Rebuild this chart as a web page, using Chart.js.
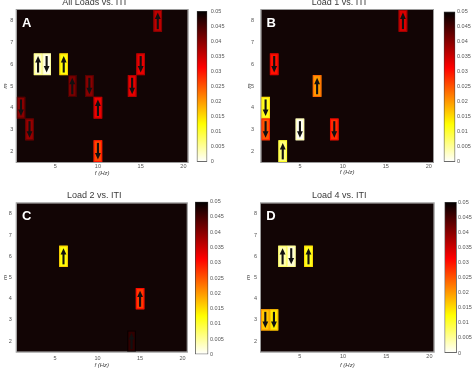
<!DOCTYPE html>
<html><head><meta charset="utf-8">
<script src="https://cdn.jsdelivr.net/npm/chart.js@4"></script>
<style>
html,body{margin:0;padding:0;background:#fff;}
#wrap{position:relative;width:474px;height:370px;overflow:hidden;background:#fff;}
#wrap canvas{position:absolute;}
</style></head><body><div id="wrap"></div>
<script>
// ---- data ----
const fTicks = [5, 10, 15, 20];
const mTicks = [2, 3, 4, 5, 6, 7, 8];
const fRange = [0.5, 20.5];
const mRange = [1.5, 8.5];
const cbTicks = [0, 0.005, 0.01, 0.015, 0.02, 0.025, 0.03, 0.035, 0.04, 0.045, 0.05];
const cbTickLabels = ['0', '0.005', '0.01', '0.015', '0.02', '0.025', '0.03', '0.035', '0.04', '0.045', '0.05'];
const titles = ['All Loads vs. ITI', 'Load 1 vs. ITI', 'Load 2 vs. ITI', 'Load 4 vs. ITI'];
const letters = ['A', 'B', 'C', 'D'];

// Panel A: All Loads
const aF   = [1, 2, 3, 4, 6, 7, 9, 10, 10, 14, 15, 17];
const aM   = [4, 3, 6, 6, 6, 5, 5, 4, 2, 5, 6, 8];
const aP   = [0.040, 0.039, 0.0025, 0.001, 0.012, 0.041, 0.040, 0.0325, 0.026, 0.033, 0.033, 0.036];
const aDir = [-1, -1, 1, -1, 1, 1, -1, 1, -1, -1, -1, 1];
// Panel B: Load 1
const bF   = [17, 2, 7, 1, 1, 5, 9, 3];
const bM   = [8, 6, 5, 4, 3, 3, 3, 2];
const bP   = [0.034, 0.030, 0.020, 0.011, 0.025, 0.0005, 0.028, 0.0065];
const bDir = [1, -1, 1, -1, -1, -1, -1, 1];
// Panel C: Load 2
const cF   = [6, 15, 14];
const cM   = [6, 4, 2];
const cP   = [0.012, 0.027, 0.0465];
const cDir = [1, 1, 1];
// Panel D: Load 4
const dF   = [3, 4, 6, 1, 2];
const dM   = [6, 6, 6, 3, 3];
const dP   = [0.004, 0.002, 0.011, 0.0165, 0.014];
const dDir = [1, -1, 1, -1, -1];

// ---- styling / layout ----
const FONT = "'Liberation Sans', Arial, sans-serif";
const BG = '#120505';
const VMAX = 0.05;

function hotRev(v) {
  const t = Math.max(0, Math.min(1, 1 - v / VMAX));
  const r = Math.min(1, t / 0.375);
  const g = Math.max(0, Math.min(1, (t - 0.375) / 0.375));
  const b = Math.max(0, Math.min(1, (t - 0.75) / 0.25));
  return 'rgb(' + Math.round(r * 255) + ',' + Math.round(g * 255) + ',' + Math.round(b * 255) + ')';
}

const wrap = document.getElementById('wrap');
function makeCanvas(l, t, w, h) {
  const c = document.createElement('canvas');
  c.width = w; c.height = h;
  c.style.left = l + 'px'; c.style.top = t + 'px';
  c.style.width = w + 'px'; c.style.height = h + 'px';
  wrap.appendChild(c);
  return c;
}

function drawArrow(ctx, cx, cy, w, h, dir) {
  const L = h * 0.76, hl = Math.min(h * 0.3, 6.5), hw = Math.min(w * 0.68, 5.8);
  const tip = cy - dir * L / 2, tail = cy + dir * L / 2;
  ctx.strokeStyle = '#101010'; ctx.fillStyle = '#101010';
  ctx.lineWidth = 2.1;
  ctx.beginPath(); ctx.moveTo(cx, tail); ctx.lineTo(cx, tip + dir * hl * 0.7); ctx.stroke();
  ctx.beginPath(); ctx.moveTo(cx, tip); ctx.lineTo(cx - hw / 2, tip + dir * hl); ctx.lineTo(cx + hw / 2, tip + dir * hl); ctx.closePath(); ctx.fill();
}

const heatPlugin = {
  id: 'heat',
  beforeDatasetsDraw(chart) {
    const ctx = chart.ctx, a = chart.chartArea;
    const xs = chart.scales.x, ys = chart.scales.y;
    ctx.save();
    ctx.fillStyle = BG;
    ctx.fillRect(a.left, a.top, a.right - a.left, a.bottom - a.top);
    const meta = chart.getDatasetMeta(0);
    chart.data.datasets[0].data.forEach((d, i) => {
      const el = meta.data[i];
      const x0 = xs.getPixelForValue(d.x - 0.5), x1 = xs.getPixelForValue(d.x + 0.5);
      const y0 = ys.getPixelForValue(d.y + 0.5), y1 = ys.getPixelForValue(d.y - 0.5);
      ctx.fillStyle = hotRev(d.p);
      ctx.fillRect(x0, y0, x1 - x0, y1 - y0);
      ctx.strokeStyle = hotRev(d.p + 0.004);
      ctx.lineWidth = 1;
      ctx.strokeRect(x0 + 0.5, y0 + 0.5, x1 - x0 - 1, y1 - y0 - 1);
      drawArrow(ctx, el.x, el.y, x1 - x0, y1 - y0, d.dir);
    });
    ctx.strokeStyle = '#9a9a9a'; ctx.lineWidth = 1;
    ctx.strokeRect(a.left - 0.5, a.top - 0.5, a.right - a.left + 1, a.bottom - a.top + 1);
    const opt = chart.options.plugins.heat;
    ctx.fillStyle = '#ffffff';
    ctx.font = 'bold 13px ' + FONT;
    ctx.textAlign = 'left'; ctx.textBaseline = 'alphabetic';
    ctx.fillText(opt.letter, a.left + 5.3, a.top + 16.6);
    ctx.restore();
  }
};

function heatmap(idx, P, F, M, Pv, D) {
  const A = P.area;
  const cl = Math.floor(P.yTitleX - 3.6);
  const ct = Math.floor(P.titleY - 5.4);
  const cb = Math.ceil(P.xTitleY + 3.6);
  const cr = Math.ceil(A.r + 1);
  const canvas = makeCanvas(cl, ct, cr - cl, cb - ct);
  const data = F.map((f, i) => ({x: f, y: M[i], p: Pv[i], dir: D[i]}));
  new Chart(canvas, {
    type: 'scatter',
    data: {datasets: [{data: data, pointRadius: 0, pointHoverRadius: 0}]},
    plugins: [heatPlugin],
    options: {
      responsive: false, animation: false, events: [],
      layout: {padding: {left: 0, right: cr - A.r, top: 0, bottom: 0}},
      plugins: {
        legend: {display: false}, tooltip: {enabled: false},
        title: {display: true, text: titles[idx], color: '#3a3a3a',
          font: {family: FONT, size: 9, weight: 'normal'}, padding: {top: P.titleY - 5.4 - ct, bottom: A.t - P.titleY - 5.4}},
        heat: {letter: letters[idx]}
      },
      scales: {
        x: {type: 'linear', min: fRange[0], max: fRange[1],
          afterBuildTicks: s => { s.ticks = fTicks.map(v => ({value: v})); },
          afterFit: s => { s.height = cb - A.b; },
          grid: {display: false, drawTicks: false}, border: {display: false},
          ticks: {color: '#555', font: {family: FONT, size: 5.5}, padding: P.xTickY - A.b - 3.3,
            maxRotation: 0, autoSkip: false, callback: v => String(v)},
          title: {display: true, text: 'f (Hz)', color: '#444', font: {family: FONT, size: 6, style: 'italic'},
            padding: {top: 0, bottom: cb - P.xTitleY - 3.6}}
        },
        y: {type: 'linear', min: mRange[0], max: mRange[1],
          afterBuildTicks: s => { s.ticks = mTicks.map(v => ({value: v})); },
          afterFit: s => { s.width = A.l - cl; },
          grid: {display: false, drawTicks: false}, border: {display: false},
          ticks: {color: '#555', font: {family: FONT, size: 5.5}, padding: A.l - P.yTickRight,
            autoSkip: false, callback: v => String(v)},
          title: {display: true, text: 'm', color: '#444', font: {family: FONT, size: 6, style: 'italic'},
            padding: {top: P.yTitleX - 3.6 - cl, bottom: 0}}
        }
      }
    }
  });
}

function colorbar(B) {
  const cl = Math.floor(B.l - 6), cr = B.cr;
  const ct = Math.floor(B.t - 10), cb = Math.ceil(B.b + 10);
  const canvas = makeCanvas(cl, ct, cr - cl, cb - ct);
  const cbMin = cbTicks[0], cbMax = cbTicks[cbTicks.length - 1];
  new Chart(canvas, {
    type: 'bar',
    data: {labels: ['p'], datasets: [{
      data: [[cbMin, cbMax]],
      barPercentage: 1, categoryPercentage: 1,
      borderWidth: 1, borderColor: '#3a3a3a', borderSkipped: false,
      backgroundColor: (c) => {
        const ch = c.chart;
        if (!ch.chartArea) return '#000';
        const y = ch.scales.y;
        const g = ch.ctx.createLinearGradient(0, y.getPixelForValue(cbMin), 0, y.getPixelForValue(cbMax));
        for (let i = 0; i <= 40; i++) {
          const v = cbMin + (cbMax - cbMin) * i / 40;
          g.addColorStop(i / 40, hotRev(v));
        }
        return g;
      }
    }]},
    options: {
      responsive: false, animation: false, events: [],
      layout: {padding: {left: B.l - cl, right: 0, top: B.t - ct, bottom: cb - B.b}},
      plugins: {legend: {display: false}, tooltip: {enabled: false}},
      scales: {
        x: {display: false},
        y: {position: 'right', min: cbMin, max: cbMax,
          afterBuildTicks: s => { s.ticks = cbTicks.map(v => ({value: v})); },
          afterFit: s => { s.width = cr - B.r; },
          grid: {display: false, drawTicks: false}, border: {display: false},
          ticks: {color: '#555', font: {family: FONT, size: 5.5}, padding: B.lab - B.r, autoSkip: false,
            callback: (v, i) => cbTickLabels[i]}
        }
      }
    }
  });
}

heatmap(0, {area: {l: 16.7, r: 187.7, t: 10, b: 162}, titleY: 3, xTickY: 166, xTitleY: 173, yTitleX: 5, yTickRight: 13.3}, aF, aM, aP, aDir);
heatmap(1, {area: {l: 261.3, r: 433, t: 10, b: 162}, titleY: 3, xTickY: 166.7, xTitleY: 172.7, yTitleX: 249, yTickRight: 254}, bF, bM, bP, bDir);
heatmap(2, {area: {l: 16.7, r: 187.7, t: 203.3, b: 351.7}, titleY: 195.7, xTickY: 358.3, xTitleY: 365, yTitleX: 5.3, yTickRight: 11.7}, cF, cM, cP, cDir);
heatmap(3, {area: {l: 261, r: 433.7, t: 203.3, b: 351.7}, titleY: 195.7, xTickY: 356.7, xTitleY: 365, yTitleX: 248.7, yTickRight: 257}, dF, dM, dP, dDir);

colorbar({l: 196.7, r: 207.3, t: 11, b: 161.7, lab: 210.7, cr: 237});
colorbar({l: 443.7, r: 455.3, t: 11.5, b: 161.7, lab: 457, cr: 474});
colorbar({l: 195, r: 208.3, t: 201.7, b: 354.3, lab: 210, cr: 237});
colorbar({l: 444.5, r: 456.7, t: 202, b: 353, lab: 458, cr: 474});
</script>
</body></html>
